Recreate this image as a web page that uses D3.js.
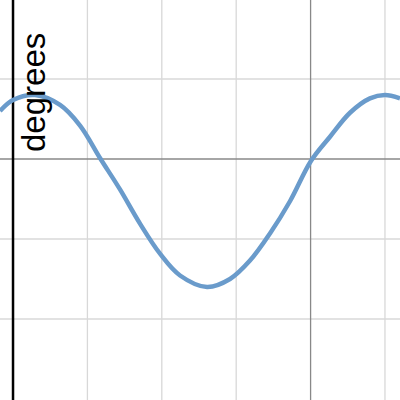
<!DOCTYPE html>
<html><head><meta charset="utf-8">
<script src="https://cdn.jsdelivr.net/npm/d3@7"></script>
<style>body{margin:0;background:#fff}</style></head>
<body><svg id="c" width="400" height="400"></svg>
<script>
const xs = [-0.175,0,0.296,0.632,0.901,1.169,1.438,1.707,1.976,2.245,2.608,2.917,3.185,3.454,3.723,4.005,4.261,4.530,4.798,5,5.202];
const ys = [0.6,0.738,0.8,0.676,0.418,0.013,-0.38,-0.808,-1.184,-1.456,-1.6,-1.5,-1.27,-0.931,-0.528,-0.025,0.278,0.578,0.758,0.8,0.759];
const xTicks = [1,2,3,5];
const yTicks = [1,-1,-2];
const label = "degrees";

const svg = d3.select("#c");
const x = d3.scaleLinear().domain([-0.175,5.202]).range([0,400]);
const y = d3.scaleLinear().domain([1.9875,-3.0125]).range([0,400]);

svg.selectAll(".gx").data(xTicks).join("line").attr("x1",d=>x(d)).attr("x2",d=>x(d)).attr("y1",0).attr("y2",400).attr("stroke","#d8d8d8").attr("stroke-width",1.3);
svg.selectAll(".gy").data(yTicks).join("line").attr("y1",d=>y(d)).attr("y2",d=>y(d)).attr("x1",0).attr("x2",400).attr("stroke","#d8d8d8").attr("stroke-width",1.3);
svg.append("line").attr("x1",x(4)).attr("x2",x(4)).attr("y1",0).attr("y2",400).attr("stroke","#888").attr("stroke-width",1.3);
svg.append("line").attr("y1",y(0)).attr("y2",y(0)).attr("x1",0).attr("x2",400).attr("stroke","#888").attr("stroke-width",1.3);
svg.append("line").attr("x1",x(0)).attr("x2",x(0)).attr("y1",0).attr("y2",400).attr("stroke","#000").attr("stroke-width",2.5);

svg.append("path").datum(xs.map((d,i)=>[d,ys[i]]))
  .attr("d",d3.line().x(d=>x(d[0])).y(d=>y(d[1])).curve(d3.curveCatmullRom))
  .attr("fill","none").attr("stroke","#6a9bcb").attr("stroke-width",4.5);

svg.append("text").attr("transform","translate(45,152) rotate(-90)")
  .attr("font-family","Liberation Sans, Arial, sans-serif").attr("font-size",33).attr("fill","#000").text(label);
</script></body></html>
